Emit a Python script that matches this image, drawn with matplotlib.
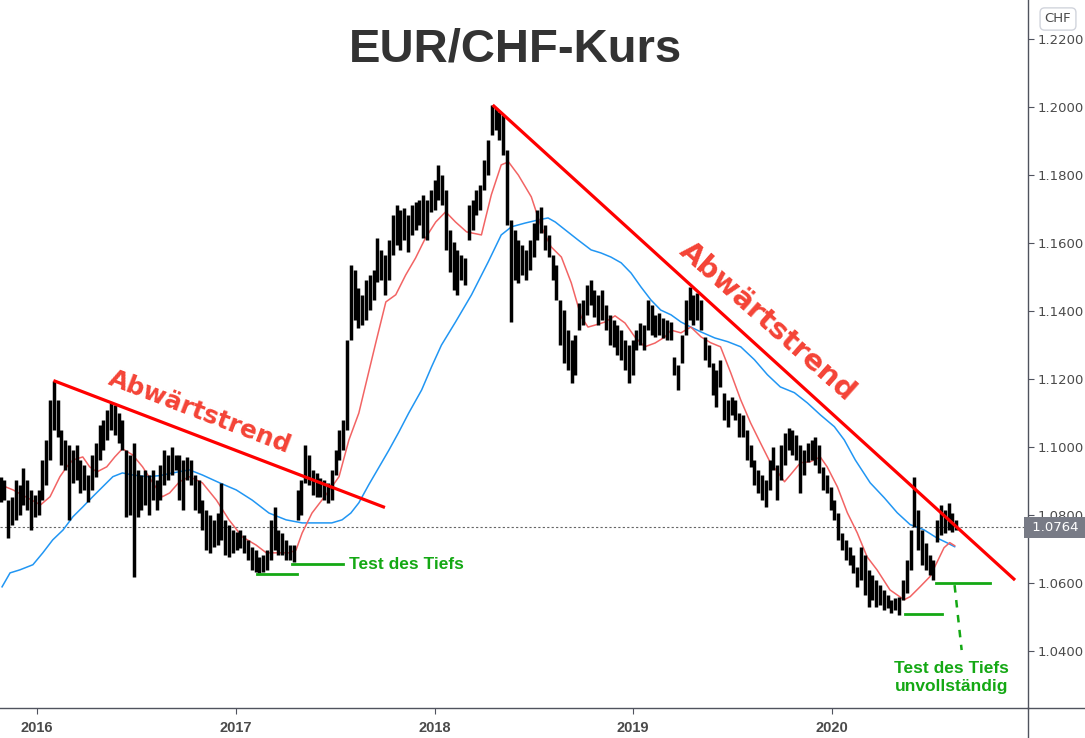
import numpy as np
import pandas as pd
import matplotlib
matplotlib.use("Agg")
import matplotlib.pyplot as plt
from matplotlib.lines import Line2D
from matplotlib.transforms import blended_transform_factory

plt.rcParams['font.family'] = ['Liberation Sans', 'DejaVu Sans']

# weekly EUR/CHF ranges, first week starting 2015-10-26
start = pd.Timestamp('2015-10-26')
highs = [1.0913, 1.0903, 1.0844, 1.0853, 1.0903, 1.0889, 1.0939, 1.0903, 1.0874, 1.0859,
         1.0874, 1.0962, 1.1021, 1.1138, 1.1194, 1.1138, 1.1050, 1.1021, 1.1006, 1.0991,
         1.1006, 1.0962, 1.0947, 1.0918, 1.0977, 1.1012, 1.1065, 1.1080, 1.1109, 1.1130,
         1.1124, 1.1100, 1.1080, 1.0991, 1.0977, 1.1012, 1.0933, 1.0918, 1.0933, 1.0918,
         1.0933, 1.0903, 1.0947, 1.0991, 1.0977, 1.1000, 1.0977, 1.0977, 1.0962, 1.0971,
         1.0962, 1.0918, 1.0903, 1.0844, 1.0815, 1.0800, 1.0786, 1.0806, 1.0895, 1.0786,
         1.0771, 1.0756, 1.0750, 1.0756, 1.0742, 1.0727, 1.0706, 1.0697, 1.0677, 1.0683,
         1.0697, 1.0786, 1.0824, 1.0756, 1.0748, 1.0727, 1.0712, 1.0712, 1.0874, 1.0903,
         1.1006, 1.0977, 1.0933, 1.0924, 1.0910, 1.0903, 1.0895, 1.0933, 1.0991, 1.1050,
         1.1080, 1.1315, 1.1536, 1.1521, 1.1468, 1.1448, 1.1491, 1.1506, 1.1521, 1.1615,
         1.1580, 1.1565, 1.1609, 1.1683, 1.1712, 1.1697, 1.1703, 1.1683, 1.1712, 1.1721,
         1.1727, 1.1741, 1.1727, 1.1756, 1.1786, 1.1830, 1.1800, 1.1756, 1.1639, 1.1604,
         1.1580, 1.1565, 1.1556, 1.1712, 1.1727, 1.1756, 1.1771, 1.1844, 1.1903, 1.2006,
         1.1997, 1.1986, 1.1977, 1.1874, 1.1668, 1.1639, 1.1609, 1.1595, 1.1580, 1.1609,
         1.1659, 1.1697, 1.1706, 1.1653, 1.1624, 1.1565, 1.1536, 1.1433, 1.1403, 1.1344,
         1.1315, 1.1330, 1.1424, 1.1433, 1.1477, 1.1491, 1.1462, 1.1448, 1.1462, 1.1418,
         1.1389, 1.1374, 1.1359, 1.1344, 1.1315, 1.1301, 1.1315, 1.1344, 1.1365, 1.1359,
         1.1433, 1.1418, 1.1389, 1.1395, 1.1380, 1.1374, 1.1368, 1.1265, 1.1242, 1.1330,
         1.1433, 1.1471, 1.1448, 1.1454, 1.1433, 1.1324, 1.1301, 1.1248, 1.1227, 1.1256,
         1.1159, 1.1138, 1.1148, 1.1138, 1.1101, 1.1095, 1.1050, 1.1006, 1.0962, 1.0933,
         1.0918, 1.0903, 1.0962, 1.1000, 1.0947, 1.1006, 1.1042, 1.1056, 1.1050, 1.1036,
         1.1006, 1.0991, 1.1012, 1.1021, 1.1030, 1.1006, 1.0942, 1.0918, 1.0883, 1.0844,
         1.0806, 1.0748, 1.0727, 1.0707, 1.0683, 1.0648, 1.0707, 1.0683, 1.0639, 1.0624,
         1.0609, 1.0595, 1.0580, 1.0566, 1.0551, 1.0557, 1.0560, 1.0609, 1.0668, 1.0756,
         1.0913, 1.0815, 1.0756, 1.0718, 1.0683, 1.0668, 1.0786, 1.0830, 1.0815, 1.0836,
         1.0806, 1.0786]
lows = [1.0838, 1.0844, 1.0733, 1.0771, 1.0786, 1.0800, 1.0830, 1.0815, 1.0756, 1.0794,
        1.0800, 1.0844, 1.0889, 1.0962, 1.1050, 1.1030, 1.0947, 1.0933, 1.0786, 1.0895,
        1.0903, 1.0865, 1.0874, 1.0839, 1.0874, 1.0913, 1.0962, 1.0991, 1.1021, 1.1050,
        1.1036, 1.1012, 1.0991, 1.0795, 1.0800, 1.0618, 1.0795, 1.0815, 1.0830, 1.0800,
        1.0844, 1.0815, 1.0844, 1.0889, 1.0903, 1.0918, 1.0933, 1.0844, 1.0815, 1.0903,
        1.0889, 1.0815, 1.0806, 1.0756, 1.0697, 1.0689, 1.0707, 1.0712, 1.0727, 1.0683,
        1.0677, 1.0689, 1.0697, 1.0703, 1.0689, 1.0668, 1.0639, 1.0633, 1.0630, 1.0633,
        1.0639, 1.0668, 1.0697, 1.0683, 1.0683, 1.0668, 1.0668, 1.0662, 1.0786, 1.0800,
        1.0895, 1.0889, 1.0859, 1.0853, 1.0853, 1.0844, 1.0836, 1.0844, 1.0918, 1.0962,
        1.0991, 1.1050, 1.1315, 1.1374, 1.1351, 1.1360, 1.1374, 1.1403, 1.1433, 1.1486,
        1.1491, 1.1448, 1.1491, 1.1565, 1.1595, 1.1580, 1.1609, 1.1574, 1.1624, 1.1639,
        1.1653, 1.1615, 1.1609, 1.1692, 1.1697, 1.1727, 1.1712, 1.1580, 1.1515, 1.1462,
        1.1448, 1.1491, 1.1477, 1.1609, 1.1639, 1.1683, 1.1697, 1.1756, 1.1800, 1.1918,
        1.1932, 1.1903, 1.1859, 1.1653, 1.1368, 1.1491, 1.1483, 1.1506, 1.1491, 1.1521,
        1.1559, 1.1609, 1.1630, 1.1580, 1.1559, 1.1491, 1.1433, 1.1301, 1.1248, 1.1227,
        1.1189, 1.1212, 1.1344, 1.1359, 1.1389, 1.1418, 1.1383, 1.1359, 1.1374, 1.1344,
        1.1301, 1.1295, 1.1271, 1.1256, 1.1227, 1.1189, 1.1212, 1.1286, 1.1301, 1.1286,
        1.1344, 1.1330, 1.1324, 1.1330, 1.1321, 1.1315, 1.1315, 1.1212, 1.1168, 1.1248,
        1.1330, 1.1374, 1.1360, 1.1374, 1.1344, 1.1256, 1.1236, 1.1154, 1.1118, 1.1177,
        1.1080, 1.1060, 1.1095, 1.1080, 1.1030, 1.1030, 1.0962, 1.0942, 1.0889, 1.0865,
        1.0844, 1.0824, 1.0874, 1.0933, 1.0844, 1.0903, 1.0947, 1.0991, 1.0977, 1.0962,
        1.0865, 1.0918, 1.0956, 1.0962, 1.0947, 1.0924, 1.0874, 1.0865, 1.0815, 1.0786,
        1.0727, 1.0697, 1.0668, 1.0654, 1.0630, 1.0589, 1.0609, 1.0566, 1.0530, 1.0551,
        1.0530, 1.0536, 1.0521, 1.0527, 1.0513, 1.0521, 1.0507, 1.0551, 1.0571, 1.0639,
        1.0765, 1.0697, 1.0654, 1.0639, 1.0624, 1.0609, 1.0721, 1.0742, 1.0748, 1.0756,
        1.0750, 1.0756]

# moving averages (week offset from start, value)
red_ma_wk = [0, 3.3, 10.5, 13, 15.6, 17.4, 19, 21.6, 23.4, 25.3, 27.9, 30, 32, 34.7, 37.3,
             40, 42.5, 44.4, 47, 49.6, 53, 56.7, 60, 63.5, 67.1, 69.8, 75.8, 77.6, 79.2,
             81.8, 84.4, 87, 88.9, 91.5, 94.1, 98.6, 101.2, 103.8, 106.4, 109, 111.6,
             114.3, 116.9, 119.5, 122.4, 126.3, 128.9, 131.5, 133.4, 136, 139.4, 142,
             144.6, 147.3, 149.9, 152.5, 154.3, 156.2, 158.8, 161.4, 164, 166.6, 169.2,
             171.9, 174.5, 176.1, 178.7, 181.3, 184, 186.5, 189.1, 191.8, 194.4, 197,
             199.6, 202.2, 204.1, 205.9, 207.5, 210.1, 212.7, 215.3, 217.1, 219.8, 222.4,
             225, 227.6, 230.2, 233.6, 237.3, 238.9, 241.5, 244.1, 245.9, 247.8, 249.3,
             250.6]
red_ma = [1.0889, 1.0874, 1.0830, 1.0854, 1.0913, 1.0942, 1.0962, 1.0971, 1.0942, 1.0927,
          1.0942, 1.0971, 1.0995, 1.0977, 1.0942, 1.0895, 1.0854, 1.0865, 1.0898, 1.0913,
          1.0895, 1.0844, 1.0786, 1.0736, 1.0712, 1.0689, 1.0689, 1.0697, 1.0747, 1.0806,
          1.0844, 1.0883, 1.0913, 1.1021, 1.1100, 1.1309, 1.1427, 1.1448, 1.1506, 1.1556,
          1.1615, 1.1662, 1.1692, 1.1662, 1.1633, 1.1624, 1.1742, 1.1830, 1.1839, 1.1800,
          1.1736, 1.1648, 1.1589, 1.1559, 1.1483, 1.1383, 1.1353, 1.1359, 1.1368, 1.1386,
          1.1365, 1.1324, 1.1295, 1.1306, 1.1324, 1.1344, 1.1336, 1.1353, 1.1324, 1.1307,
          1.1295, 1.1218, 1.1139, 1.1071, 1.1012, 1.0954, 1.0927, 1.0898, 1.0919, 1.0954,
          1.0957, 1.0971, 1.0942, 1.0883, 1.0807, 1.0748, 1.0677, 1.0639, 1.0580, 1.0551,
          1.0560, 1.0589, 1.0619, 1.0660, 1.0704, 1.0719, 1.0710]
blue_ma_wk = [0.4, 2.5, 5.1, 8.5, 11.1, 13.7, 16.4, 19, 21.6, 24.2, 26.8, 29.5, 32, 34.7,
              38.4, 41.8, 45.2, 49.6, 53, 57.5, 61.9, 66.1, 70.5, 75, 79.2, 83.6, 87,
              89.7, 92, 94.1, 96.7, 99.3, 102, 104.6, 107.2, 110.6, 113.2, 115.8, 119.5,
              123.7, 128.1, 131.5, 134.2, 137.8, 141.2, 143.8, 145.7, 148.3, 151.7, 155.1,
              157.7, 160.3, 163, 165.6, 168.2, 170.8, 173.4, 176.1, 178.7, 181.3, 183.9,
              187.6, 191, 194.4, 198, 201.4, 204.8, 208.5, 211.9, 215.3, 219, 221.6,
              224.5, 228.4, 232.1, 235.5, 238.9, 242.5, 245.9, 248.5, 250.6]
blue_ma = [1.0589, 1.0630, 1.0639, 1.0654, 1.0689, 1.0727, 1.0756, 1.0795, 1.0824, 1.0854,
           1.0883, 1.0913, 1.0924, 1.0918, 1.0913, 1.0916, 1.0924, 1.0933, 1.0918, 1.0895,
           1.0874, 1.0844, 1.0806, 1.0786, 1.0777, 1.0777, 1.0777, 1.0786, 1.0806, 1.0836,
           1.0889, 1.0939, 1.0991, 1.1044, 1.1100, 1.1168, 1.1236, 1.1300, 1.1368, 1.1448,
           1.1545, 1.1624, 1.1648, 1.1659, 1.1668, 1.1674, 1.1662, 1.1639, 1.1609, 1.1580,
           1.1571, 1.1559, 1.1542, 1.1512, 1.1471, 1.1433, 1.1403, 1.1389, 1.1368, 1.1353,
           1.1339, 1.1321, 1.1310, 1.1295, 1.1257, 1.1213, 1.1177, 1.1160, 1.1130, 1.1095,
           1.1060, 1.1021, 1.0962, 1.0895, 1.0851, 1.0807, 1.0772, 1.0757, 1.0733, 1.0719,
           1.0707]

last_price = 1.0764
trend_1_dates = ['2016-02-03', '2017-09-29']
trend_1_vals = [1.1194, 1.0824]
trend_2_dates = ['2018-04-20', '2020-12-01']
trend_2_vals = [1.2003, 1.0612]
low_1a_dates, low_1a = ['2017-02-08', '2017-04-23'], 1.0627
low_1b_dates, low_1b = ['2017-04-14', '2017-07-16'], 1.0656
low_2a_dates, low_2a = ['2020-05-15', '2020-07-21'], 1.0509
low_2b_dates, low_2b = ['2020-07-10', '2020-10-19'], 1.0600
yticks = [1.04, 1.06, 1.08, 1.10, 1.12, 1.14, 1.16, 1.18, 1.20, 1.22]
years = ['2016', '2017', '2018', '2019', '2020']

weeks = pd.date_range(start, periods=len(highs), freq='7D')
red_dates = start + pd.to_timedelta(np.array(red_ma_wk) * 7, unit='D')
blue_dates = start + pd.to_timedelta(np.array(blue_ma_wk) * 7, unit='D')

W, H = 1085, 738
fig = plt.figure(figsize=(W / 100, H / 100), dpi=100)
ax = fig.add_axes([0, 30 / H, 1028 / W, 708 / H])

green = '#14a814'
ax.plot(blue_dates, blue_ma, color='#2196f3', lw=1.1, zorder=2)
ax.plot(red_dates, red_ma, color='#f26464', lw=1.1, zorder=2)
ax.vlines(weeks, lows, highs, color='black', lw=2.5, zorder=3)

ax.axhline(last_price, color='#666666', ls=(0, (2, 2)), lw=0.8, zorder=1)

ax.plot(pd.to_datetime(trend_1_dates), trend_1_vals, color='#ff0000', lw=2.3, zorder=4)
ax.plot(pd.to_datetime(trend_2_dates), trend_2_vals, color='#ff0000', lw=2.3, zorder=4)
for d, v in [(low_1a_dates, low_1a), (low_1b_dates, low_1b),
             (low_2a_dates, low_2a), (low_2b_dates, low_2b)]:
    ax.plot(pd.to_datetime(d), [v, v], color=green, lw=2, zorder=4)
ax.plot(pd.to_datetime(['2020-08-14', '2020-08-27']), [1.0594, 1.0403],
        color=green, lw=1.8, ls=(0, (3, 3)), zorder=4)

ax.text(pd.Timestamp('2016-10-27'), 1.1103, 'Abwärtstrend', rotation=-21,
        rotation_mode='anchor', ha='center', va='center', fontsize=18,
        fontweight='bold', color='#f44336', family='DejaVu Sans', zorder=5)
ax.text(pd.Timestamp('2019-09-05'), 1.1368, 'Abwärtstrend', rotation=-41.5,
        rotation_mode='anchor', ha='center', va='center', fontsize=21,
        fontweight='bold', color='#f44336', family='DejaVu Sans', zorder=5)
ax.text(pd.Timestamp('2017-07-27'), low_1b, 'Test des Tiefs', ha='left', va='center',
        fontsize=12.5, fontweight='bold', color=green)
ax.text(pd.Timestamp('2020-08-08'), 1.0321, 'Test des Tiefs\nunvollständig',
        ha='center', va='center', fontsize=12.5, fontweight='bold', color=green,
        linespacing=1.25)

ax.set_xlim(pd.Timestamp('2015-10-25'), pd.Timestamp('2020-12-27'))
ax.set_ylim(1.02326, 1.2315)

ax.set_xticks(pd.to_datetime([y + '-01-01' for y in years]))
ax.set_xticklabels(years)
ax.set_yticks(yticks)
ax.set_yticklabels([f'{v:.4f}' for v in yticks])
ax.yaxis.tick_right()
ax.tick_params(axis='y', length=4, width=0.8, color='#50535e', pad=3,
               labelsize=9.5, labelcolor='#4a4a4a', labelfontfamily='DejaVu Sans')
ax.tick_params(axis='x', length=4, width=0.8, color='#50535e', pad=5,
               labelsize=10.5, labelcolor='#4a4a4a')
for lab in ax.get_xticklabels():
    lab.set_fontweight('bold')

for s in ['top', 'left']:
    ax.spines[s].set_visible(False)
for s in ['right', 'bottom']:
    ax.spines[s].set_color('#50535e')
    ax.spines[s].set_linewidth(1)

# axis lines run on to the figure edges
fig.add_artist(Line2D([1028 / W, 1028 / W], [0, 30 / H], color='#50535e', lw=1))
fig.add_artist(Line2D([1028 / W, 1], [30 / H, 30 / H], color='#50535e', lw=1))

tr = blended_transform_factory(ax.transAxes, ax.transData)
ax.text(1.0, last_price, ' 1.0764  ', transform=tr, ha='left', va='center',
        fontsize=9.5, color='white', family='DejaVu Sans', clip_on=False, zorder=10,
        bbox=dict(boxstyle='square,pad=0.3', fc='#787b86', ec='none'))

fig.text(1058 / W, 1 - 19 / H, 'CHF', ha='center', va='center', fontsize=9.5,
         color='#4a4a4a', family='DejaVu Sans',
         bbox=dict(boxstyle='round,pad=0.35', fc='white', ec='#d1d4dc', lw=1))

fig.text(515 / W, 1 - 50 / H, 'EUR/CHF-Kurs', ha='center', va='center', fontsize=34,
         fontweight='bold', color='#333333')

fig.savefig('out.png', dpi=100)
